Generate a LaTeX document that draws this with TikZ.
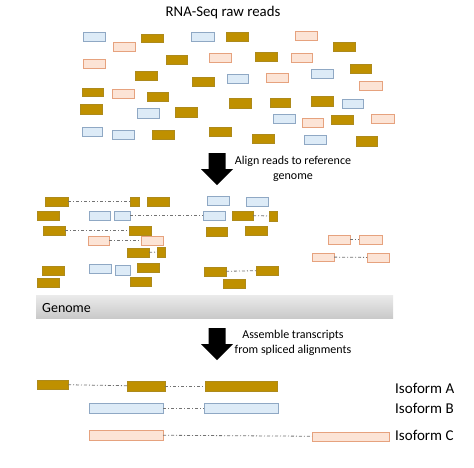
\documentclass[tikz,border=0pt]{standalone}
\usepackage{fontspec}
\setmainfont{Carlito}
\usetikzlibrary{positioning}
\definecolor{goldfill}{HTML}{BF9000}
\definecolor{golddraw}{HTML}{AD8A1C}
\definecolor{bluefill}{HTML}{DDEBF7}
\definecolor{bluedraw}{HTML}{8FA8C4}
\definecolor{peachfill}{HTML}{FCE4D6}
\definecolor{peachdraw}{HTML}{E6A27E}

\begin{document}
\begin{tikzpicture}[x=1pt,y=-1pt]
\tikzstyle{read}=[rectangle,anchor=north west,inner sep=0pt,outer sep=0pt,
line width=0.8pt,minimum width=22pt,minimum height=9pt]
\tikzstyle{g}=[read,fill=goldfill,draw=golddraw]
\tikzstyle{b}=[read,fill=bluefill,draw=bluedraw]
\tikzstyle{p}=[read,fill=peachfill,draw=peachdraw]
\tikzstyle{splice}=[draw=black!55,line width=0.8pt,
dash pattern=on 3pt off 2pt on 1pt off 2pt]
\tikzstyle{note}=[align=center,inner sep=0pt,font=\fontsize{12}{14.5}\selectfont]
\useasboundingbox (0,0) rectangle (474,467);

\node[font=\fontsize{14.8}{17}\selectfont] (title) at (223,13) {RNA-Seq raw reads};

% raw reads
\node[b] at (83,32) (r1) {};
\node[p] at (113,42) (r2) {};
\node[g,minimum height=8pt] at (141,34) (r3) {};
\node[b,minimum width=23pt] at (191,32) (r4) {};
\node[g] at (226,32) (r5) {};
\node[p] at (295,31) (r6) {};
\node[g] at (333,42) (r7) {};
\node[p] at (83,59) (r8) {};
\node[g,minimum width=21pt] at (166,55) (r9) {};
\node[p] at (209,53) (r10) {};
\node[g] at (255,52) (r11) {};
\node[p,minimum width=21pt] at (291,53) (r12) {};
\node[g] at (135,71) (r13) {};
\node[g] at (192,77) (r14) {};
\node[b,minimum width=21pt] at (227,74) (r15) {};
\node[p] at (266,73) (r16) {};
\node[b] at (311,69) (r17) {};
\node[g,minimum width=21pt] at (350,64) (r18) {};
\node[p,minimum width=23pt] at (359,81) (r19) {};
\node[g,minimum width=21pt,minimum height=8pt] at (82,88) (r20) {};
\node[p] at (112,89) (r21) {};
\node[g,minimum width=21pt] at (147,92) (r22) {};
\node[g,minimum height=10pt] at (80,104) (r23) {};
\node[b,minimum height=10pt] at (137,108) (r24) {};
\node[g,minimum height=10pt] at (175,107) (r25) {};
\node[g,minimum height=10pt] at (229,98) (r26) {};
\node[g,minimum width=20pt] at (270,98) (r27) {};
\node[g,minimum height=10pt] at (311,96) (r28) {};
\node[b,minimum width=21pt] at (342,99) (r29) {};
\node[b] at (273,114) (r30) {};
\node[p,minimum width=21pt] at (302,118) (r31) {};
\node[g] at (331,115) (r32) {};
\node[p,minimum width=23pt] at (371,114) (r33) {};
\node[b,minimum width=20pt] at (82,127) (r34) {};
\node[b] at (112,130) (r35) {};
\node[g] at (152,130) (r36) {};
\node[g] at (209,127) (r37) {};
\node[g] at (252,134) (r38) {};
\node[b] at (304,135) (r39) {};
\node[g,minimum width=21pt,minimum height=10pt] at (356,136) (r40) {};

% first arrow
\coordinate (arr1) at (217,153);
\fill (arr1) ++(-8.5,0) -- ++(17,0) -- ++(0,16) -- ++(7.5,0) -- (217,185)
  -- (201,169) -- (208.5,169) -- cycle;
\node[note] (step1) at (293,169) {Align reads to reference\\genome};

% aligned reads
\node[g,minimum width=23pt] at (45,197) (a1) {};
\node[g,minimum width=9pt] at (130,197) (a2) {};
\node[g] at (147,197) (a3) {};
\node[b] at (207,196) (a4) {};
\node[b] at (246,197) (a5) {};
\node[g] at (37,211) (a6) {};
\node[b,minimum width=21pt] at (89,211) (a7) {};
\node[b,minimum width=16pt] at (114,211) (a8) {};
\node[b] at (203,211) (a9) {};
\node[g,minimum width=21pt] at (232,211) (a10) {};
\node[g,minimum width=8pt,minimum height=10pt] at (269,211) (a11) {};
\node[g] at (43,226) (a12) {};
\node[g] at (129,226) (a13) {};
\node[g,minimum width=21pt] at (206,227) (a14) {};
\node[g] at (245,226) (a15) {};
\node[p,minimum width=21pt] at (88,236) (a16) {};
\node[p] at (141,236) (a17) {};
\node[p] at (328,235) (a18) {};
\node[p,minimum width=23pt] at (359,235) (a19) {};
\node[g] at (127,248) (a20) {};
\node[g,minimum width=8pt,minimum height=10pt] at (157,247) (a21) {};
\node[p,minimum height=8pt] at (312,253) (a22) {};
\node[p] at (367,253) (a23) {};
\node[g] at (42,266) (a24) {};
\node[b] at (89,264) (a25) {};
\node[b,minimum width=15pt,minimum height=10pt] at (115,265) (a26) {};
\node[g] at (137,263) (a27) {};
\node[g] at (204,267) (a28) {};
\node[g] at (256,266) (a29) {};
\node[g] at (37,278) (a30) {};
\node[g,minimum width=21pt] at (130,277) (a31) {};
\node[g] at (223,279) (a32) {};

\path[splice] (a1) -- (a2);
\path[splice] (a8) -- (a9);
\path[splice] (a10) -- (a11);
\path[splice] (a12) -- (a13);
\path[splice] (a16) -- (a17);
\path[splice] (a18) -- (a19);
\path[splice] (a20) -- (a21);
\path[splice] (a22) -- (a23);
\path[splice] (a28) -- (a29);

% genome
\shade[top color=gray!16,bottom color=gray!42] (36,295) rectangle (393,318);
\node[anchor=west,inner sep=0pt,font=\fontsize{14}{17}\selectfont] (genome) at (42,308) {Genome};

% second arrow
\coordinate (arr2) at (217,328);
\fill (arr2) ++(-8.5,0) -- ++(17,0) -- ++(0,16) -- ++(7.5,0) -- (217,360)
  -- (201,344) -- (208.5,344) -- cycle;
\node[note] (step2) at (293,343) {Assemble transcripts\\from spliced alignments};

% isoforms
\node[g,minimum width=31pt] at (37,380) (i1) {};
\node[g,minimum width=38pt,minimum height=10pt] at (127,381) (i2) {};
\node[g,minimum width=72pt,minimum height=10pt] at (205,381) (i3) {};
\node[b,minimum width=74pt,minimum height=10pt] at (89,403) (i4) {};
\node[b,minimum width=74pt,minimum height=10pt] at (204,403) (i5) {};
\node[p,minimum width=74pt,minimum height=10pt] at (89,430) (i6) {};
\node[p,minimum width=77pt] at (312,432) (i7) {};

\path[splice] (i1) -- (i2);
\path[splice] (i2) -- (i3);
\path[splice] (i4) -- (i5);
\path[splice] (i6) -- (i7);

\node[anchor=west,inner sep=0pt,font=\fontsize{15}{18}\selectfont] (isoA) at (395,388) {Isoform A};
\node[anchor=west,inner sep=0pt,font=\fontsize{15}{18}\selectfont] (isoB) at (395,408) {Isoform B};
\node[anchor=west,inner sep=0pt,font=\fontsize{15}{18}\selectfont] (isoC) at (395,435) {Isoform C};

\end{tikzpicture}
\end{document}
